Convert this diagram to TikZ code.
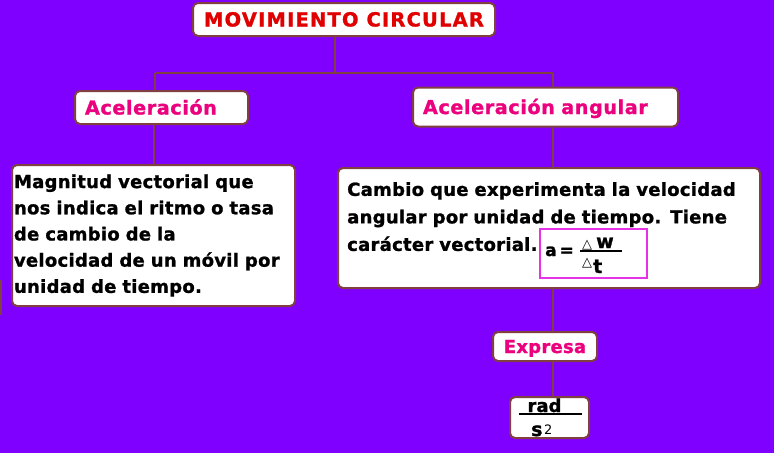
\documentclass[tikz,border=0pt]{standalone}
\usepackage{fontspec}
\setmainfont{DejaVu Sans}[BoldFeatures={FakeBold=1.2}]
\newfontfamily\tfont{DejaVu Sans}[LetterSpace=6, BoldFeatures={FakeBold=1.2}]
\newfontfamily\hfont{DejaVu Sans}[LetterSpace=3, BoldFeatures={FakeBold=1.2}]
\newfontfamily\bfont{DejaVu Sans}[LetterSpace=1.5, BoldFeatures={FakeBold=1.2}]
\newfontfamily\symfont{DejaVu Sans}
\definecolor{bg}{RGB}{128,0,255}
\definecolor{brd}{RGB}{128,64,64}
\definecolor{pinkh}{RGB}{235,0,125}
\definecolor{titler}{RGB}{225,0,0}
\definecolor{mag}{RGB}{230,50,230}
\begin{document}
\begin{tikzpicture}[x=1pt,y=-1pt,
  box/.style={draw=brd, line width=2pt, fill=white, rounded corners=5pt, inner sep=0pt},
  conn/.style={draw=brd, line width=2pt},
  head/.style={box, text=pinkh, font=\hfont\bfseries\fontsize{19.2}{20}\selectfont, text height=14pt, text depth=0pt, align=left, inner xsep=10pt},
  body/.style={font=\bfont\bfseries\fontsize{18}{26.2}\selectfont, align=left},
  plain/.style={inner sep=0pt}]
\useasboundingbox (0,0) rectangle (774,453);
\fill[bg] (0,0) rectangle (774,453);

% nodes
\node[box, text=titler, font=\tfont\bfseries\fontsize{19.5}{20}\selectfont, text height=14pt, text depth=0pt,
  minimum width=302pt, minimum height=33pt] (title) at (344,19.5) {MOVIMIENTO CIRCULAR};
\node[head, minimum width=173pt, minimum height=33pt, text width=153pt] (acc) at (161.5,107.5) {Aceleración};
\node[head, minimum width=265pt, minimum height=39pt, text width=245pt] (ang) at (545.5,107) {Aceleración angular};

\node[box, body, minimum width=283pt, minimum height=141pt, text width=279pt, inner xsep=2pt] (ltext) at (153.5,235.5)
  {Magnitud vectorial que\\nos indica el ritmo o tasa\\de cambio de la\\velocidad de un móvil por\\unidad de tiempo.};

\node[box, minimum width=422pt, minimum height=120pt] (rbox) at (549,228) {};
\node[plain, body, font=\bfont\bfseries\fontsize{18}{27.5}\selectfont, text width=404pt, anchor=north west] (rtext) at (347,182)
  {Cambio que experimenta la velocidad\\angular por unidad de tiempo. Tiene\\carácter vectorial.};

% formula
\node[draw=mag, line width=1.5pt, minimum width=107pt, minimum height=49pt, inner sep=0pt] (fbox) at (593.5,253.5) {};
\node[plain, anchor=base west, font=\bfseries\fontsize{17}{18}\selectfont] (fa) at (545,256) {a\hspace{3pt}=};
\draw[line width=1.5pt] (580,251) -- (622,251);
\node[plain, anchor=base west, font=\bfseries\fontsize{19}{19}\selectfont] (fnum) at (582,248)
  {{\symfont\mdseries\fontsize{13}{13}\selectfont △}\hspace{4pt}w};
\node[plain, anchor=base west, font=\bfseries\fontsize{19}{19}\selectfont] (fden) at (582,273)
  {\raisebox{7pt}{\symfont\mdseries\fontsize{13}{13}\selectfont △}\hspace{1pt}t};

\node[box, text=pinkh, font=\bfont\bfseries\fontsize{18}{20}\selectfont, text height=13pt, text depth=0pt,
  minimum width=104pt, minimum height=29pt] (expr) at (545,346.5) {Expresa};

\node[box, minimum width=79pt, minimum height=41pt] (rad) at (549.5,417.5) {};
\node[plain, anchor=base, font=\bfseries\fontsize{18}{20}\selectfont] (radt) at (544.5,412) {rad};
\draw[line width=1.5pt] (519,414) -- (582,414);
\node[plain, anchor=base west, font=\bfseries\fontsize{19}{20}\selectfont] (s) at (531,436) {s};
\node[plain, anchor=base west, font=\fontsize{13}{13}\selectfont] (two) at (544,434) {2};

% connectors
\coordinate (jt) at (335,73);
\coordinate (jl) at (155,73);
\coordinate (jr) at (553,73);
\draw[conn] (title.south -| jt) -- (jt);
\draw[conn] (jl) -- (jr);
\draw[conn] (jl) -- (jl |- acc.north);
\draw[conn] (jr) -- (jr |- ang.north);
\draw[conn] (ltext.north) -- (ltext.north |- acc.south);
\draw[conn] (jr |- ang.south) -- (jr |- rbox.north);
\draw[conn] (jr |- rbox.south) -- (jr |- expr.north);
\draw[conn] (jr |- expr.south) -- (jr |- rad.north);
\draw[conn, line width=1.5pt] (1,280) -- (1,315);
\end{tikzpicture}
\end{document}
